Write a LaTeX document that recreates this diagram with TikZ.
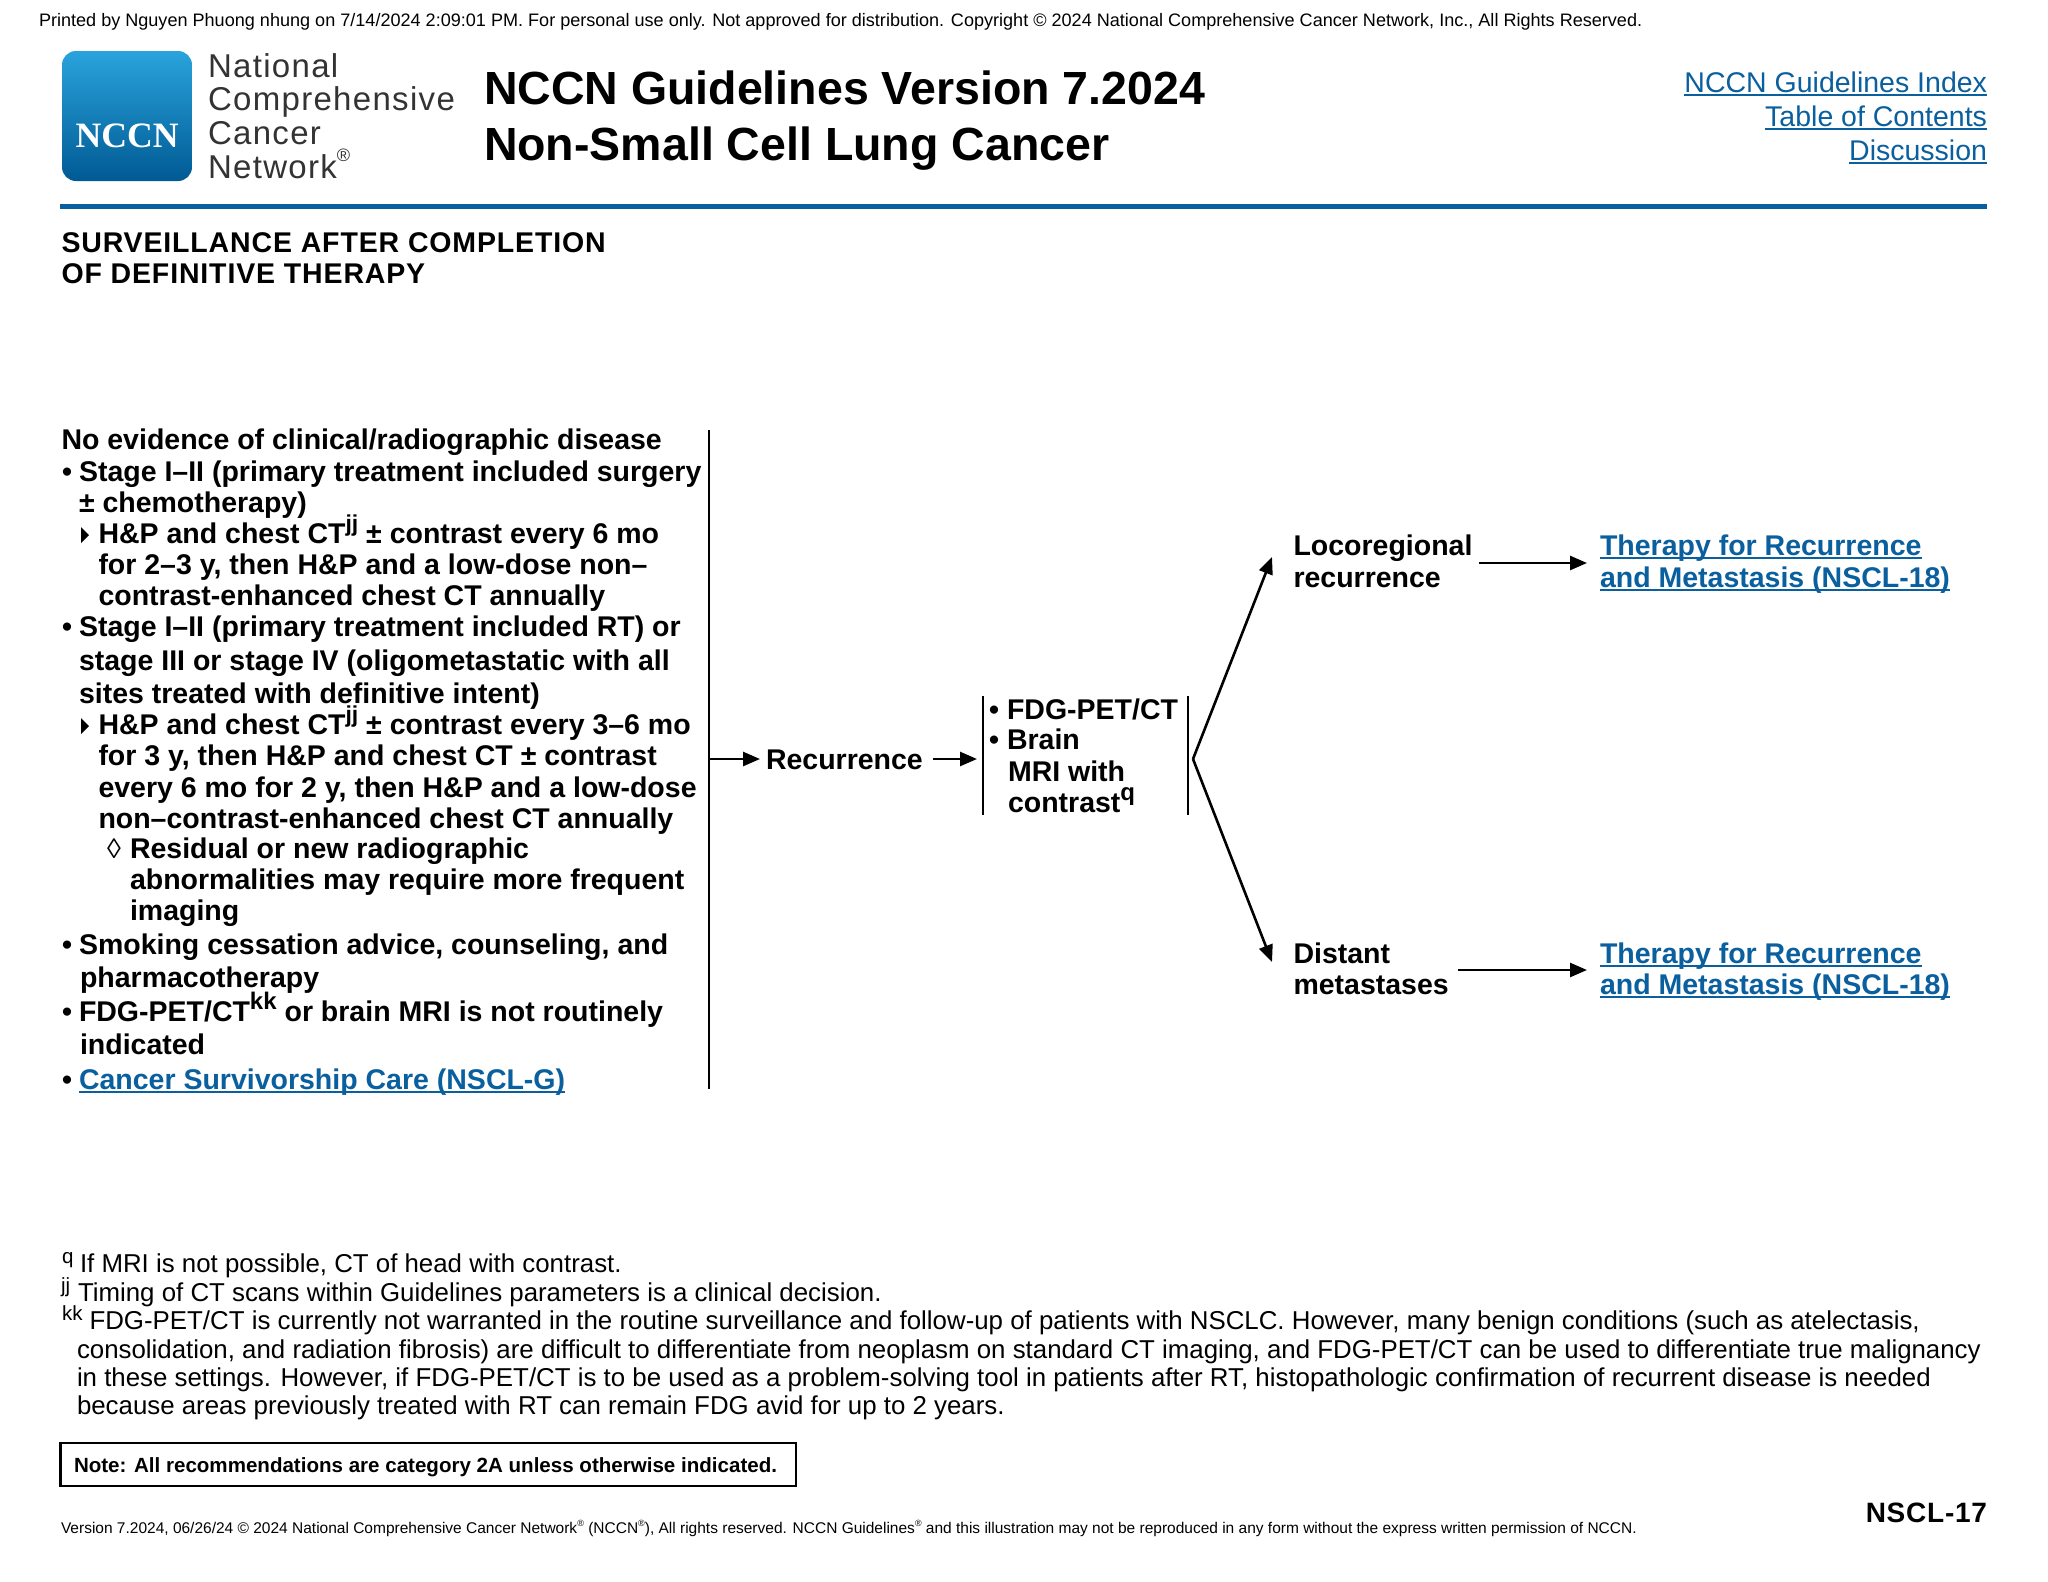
\documentclass[tikz,border=0pt]{standalone}
\usepackage{fontspec}
\usetikzlibrary{arrows.meta}
\setmainfont{Liberation Sans}
\newfontfamily\serifb{Liberation Serif}
\newfontfamily\logofont{Liberation Sans}[LetterSpace=4]
\newfontfamily\headfont{Liberation Sans}[LetterSpace=3]
\newfontfamily\pagefont{Liberation Sans}[LetterSpace=2.7]
\definecolor{nblue}{HTML}{0A5F9E}
\definecolor{logotop}{HTML}{2AA3DC}
\definecolor{logobot}{HTML}{005A94}
\newsavebox\ulbox
\newcommand\ulk[2][4]{\sbox\ulbox{#2}\leavevmode\rlap{\rule[-#1pt]{\wd\ulbox}{1.9pt}}\usebox\ulbox}
\newcommand\sups[2][20.5]{\raisebox{0.34em}{\fontsize{#1}{#1}\selectfont\mdseries #2}}
\newcommand\supb[2][23]{\raisebox{0.40em}{\fontsize{#1}{#1}\selectfont #2}}
\tikzset{
  txt/.style={inner sep=0pt,outer sep=0pt,anchor=base west},
  body/.style={txt,font=\fontsize{28.5}{30}\bfseries\selectfont},
  link/.style={body,text=nblue},
  foot/.style={txt,font=\fontsize{25.85}{28}\selectfont},
  logotxt/.style={txt,text=black!80,font=\fontsize{33}{35}\logofont\selectfont},
  titletxt/.style={txt,font=\fontsize{46.5}{50}\bfseries\selectfont},
  headtxt/.style={txt,font=\fontsize{28.5}{30}\headfont\bfseries\selectfont},
  toplink/.style={txt,anchor=base east,text=nblue,font=\fontsize{28.5}{30}\selectfont},
  wire/.style={line width=2.6pt,black},
  conn/.style={wire,-{Triangle[length=17pt,width=14pt]}},
}
\begin{document}
\begin{tikzpicture}[x=1pt,y=-1pt]
\useasboundingbox (0,0) rectangle (2048,1582);
\fill[white] (0,0) rectangle (2048,1582);
\node[txt,font=\fontsize{18.07}{20}\selectfont] (printed) at (39,26) {Printed by Nguyen Phuong nhung on 7/14/2024 2:09:01 PM. For personal use only. Not approved for distribution. Copyright © 2024 National Comprehensive Cancer Network, Inc., All Rights Reserved.};
% logo
\shade[top color=logotop,bottom color=logobot,rounded corners=14pt] (62,51) rectangle (192,181);
\node[txt,text=white,font=\fontsize{35.7}{38}\bfseries\serifb\selectfont] (logoname) at (75.5,147) {NCCN};
\node[logotxt] (l1) at (208,77) {National};
\node[logotxt] (l2) at (208,110) {Comprehensive};
\node[logotxt] (l3) at (208,144) {Cancer};
\node[logotxt] (l4) at (208,178) {Network\raisebox{0.5em}{\fontsize{18}{18}\selectfont ®}};
\node[titletxt] (t1) at (484,104) {NCCN Guidelines Version 7.2024};
\node[titletxt] (t2) at (484,160) {Non-Small Cell Lung Cancer};
\node[toplink] (tl1) at (1987,92) {\ulk{NCCN Guidelines Index}};
\node[toplink] (tl2) at (1987,126) {\ulk{Table of Contents}};
\node[toplink] (tl3) at (1987,160) {\ulk{Discussion}};
\fill[nblue] (60,203.5) rectangle (1987,208.5);
\node[headtxt] (h1) at (61.5,252) {SURVEILLANCE AFTER COMPLETION};
\node[headtxt] (h2) at (61.5,283) {OF DEFINITIVE THERAPY};
% left column
\node[body] (a0) at (61.5,449) {No evidence of clinical/radiographic disease};
\node[body] (b1) at (62,481) {•};
\node[body] (a1) at (79,481) {Stage I–II (primary treatment included surgery};
\node[body] (a2) at (79,512) {± chemotherapy)};
\fill (81,527)--(89,535)--(81,543)--cycle;
\node[body] (a3) at (98.5,543) {H\&P and chest CT\supb{jj} ± contrast every 6 mo};
\node[body] (a4) at (98.5,574) {for 2–3 y, then H\&P and a low-dose non–};
\node[body] (a5) at (98.5,605) {contrast-enhanced chest CT annually};
\node[body] (b2) at (62,636) {•};
\node[body] (a6) at (79,636) {Stage I–II (primary treatment included RT) or};
\node[body] (a7) at (79,670) {stage III or stage IV (oligometastatic with all};
\node[body] (a8) at (79,703) {sites treated with definitive intent)};
\fill (81,718)--(89,726)--(81,734)--cycle;
\node[body] (a9) at (98.5,734) {H\&P and chest CT\supb{jj} ± contrast every 3–6 mo};
\node[body] (a10) at (98.5,765) {for 3 y, then H\&P and chest CT ± contrast};
\node[body] (a11) at (98.5,797) {every 6 mo for 2 y, then H\&P and a low-dose};
\node[body] (a12) at (98.5,828) {non–contrast-enhanced chest CT annually};
\node[txt,font=\fontsize{28}{30}\selectfont] (b3) at (107,858) {◊};
\node[body] (a13) at (130,858) {Residual or new radiographic};
\node[body] (a14) at (130,889) {abnormalities may require more frequent};
\node[body] (a15) at (130,920) {imaging};
\node[body] (b4) at (62,954) {•};
\node[body] (a16) at (79,954) {Smoking cessation advice, counseling, and};
\node[body] (a17) at (80,987) {pharmacotherapy};
\node[body] (b5) at (62,1021) {•};
\node[body] (a18) at (79,1021) {FDG-PET/CT\supb[24]{kk} or brain MRI is not routinely};
\node[body] (a19) at (80,1054) {indicated};
\node[body] (b6) at (62,1089) {•};
\node[link] (a20) at (79,1089) {\ulk{Cancer Survivorship Care (NSCL-G)}};
% centre
\coordinate (barA) at (709,430);
\coordinate (barB) at (709,1089);
\coordinate (barM) at (709,759);
\draw[wire] (barA) -- (barB);
\node[body] (rec) at (766,769) {Recurrence};
\draw[conn,shorten >=6pt] (barM) -- (rec.west |- barM);
\coordinate (c1e) at (977,759);
\draw[conn,shorten <=5pt] (rec.east |- c1e) ++(5pt,0) -- (c1e);
\coordinate (w1) at (983,696); \coordinate (w2) at (983,815);
\coordinate (e1) at (1188,696); \coordinate (e2) at (1188,815);
\draw[wire] (w1) -- (w2);
\draw[wire] (e1) -- (e2);
\node[body] (fb1) at (989,719) {•};
\node[body] (f1) at (1007,719) {FDG-PET/CT};
\node[body] (fb2) at (989,749) {•};
\node[body] (f2) at (1007,749) {Brain};
\node[body] (f3) at (1008,781) {MRI with};
\node[body] (f4) at (1008,812) {contrast\supb[24]{q}};
\coordinate (fork) at (1193,759);
\coordinate (tipU) at (1272,557);
\coordinate (tipD) at (1272,962);
\draw[conn] (fork) -- (tipU);
\draw[conn] (fork) -- (tipD);
\node[body] (lr1) at (1293.5,555) {Locoregional};
\node[body] (lr2) at (1293.5,587) {recurrence};
\node[body] (dm1) at (1293.5,963) {Distant};
\node[body] (dm2) at (1293.5,994) {metastases};
\coordinate (ae1) at (1587,563);
\coordinate (ae2) at (1587,970);
\draw[conn] (lr1.east |- ae1) ++(7pt,0) -- (ae1);
\draw[conn] (dm2.east |- ae2) ++(9pt,0) -- (ae2);
\node[link] (th1) at (1600,555) {\ulk{Therapy for Recurrence}};
\node[link] (th2) at (1600,587) {\ulk{and Metastasis (NSCL-18)}};
\node[link] (th3) at (1600,963) {\ulk{Therapy for Recurrence}};
\node[link] (th4) at (1600,994) {\ulk{and Metastasis (NSCL-18)}};
% footnotes
\node[foot] (fq) at (62,1272) {\sups{q}};
\node[foot] (n1) at (80,1272) {If MRI is not possible, CT of head with contrast.};
\node[foot] (fj) at (61,1301) {\sups{jj}};
\node[foot] (n2) at (78,1301) {Timing of CT scans within Guidelines parameters is a clinical decision.};
\node[foot] (fk) at (62,1329) {\sups{kk}};
\node[foot] (n3) at (89.5,1329) {FDG-PET/CT is currently not warranted in the routine surveillance and follow-up of patients with NSCLC. However, many benign conditions (such as atelectasis,};
\node[foot] (n4) at (77,1358) {consolidation, and radiation fibrosis) are difficult to differentiate from neoplasm on standard CT imaging, and FDG-PET/CT can be used to differentiate true malignancy};
\node[foot] (n5) at (77,1386) {in these settings. However, if FDG-PET/CT is to be used as a problem-solving tool in patients after RT, histopathologic confirmation of recurrent disease is needed};
\node[foot] (n6) at (77,1414) {because areas previously treated with RT can remain FDG avid for up to 2 years.};
% note
\node[txt,font=\fontsize{20.55}{24}\bfseries\selectfont] (note) at (74,1472) {Note: All recommendations are category 2A unless otherwise indicated.};
\draw[line width=2.8pt] (60.5,1443) rectangle (796,1486);
\node[txt,font=\fontsize{15.5}{18}\selectfont] (ver) at (61,1533) {Version 7.2024, 06/26/24 © 2024 National Comprehensive Cancer Network\raisebox{0.4em}{\fontsize{9}{9}\selectfont ®} (NCCN\raisebox{0.4em}{\fontsize{9}{9}\selectfont ®}), All rights reserved. NCCN Guidelines\raisebox{0.4em}{\fontsize{9}{9}\selectfont ®} and this illustration may not be reproduced in any form without the express written permission of NCCN.};
\node[txt,anchor=base east,font=\fontsize{28}{30}\pagefont\bfseries\selectfont] (pg) at (1987,1522) {NSCL-17};
\end{tikzpicture}
\end{document}
